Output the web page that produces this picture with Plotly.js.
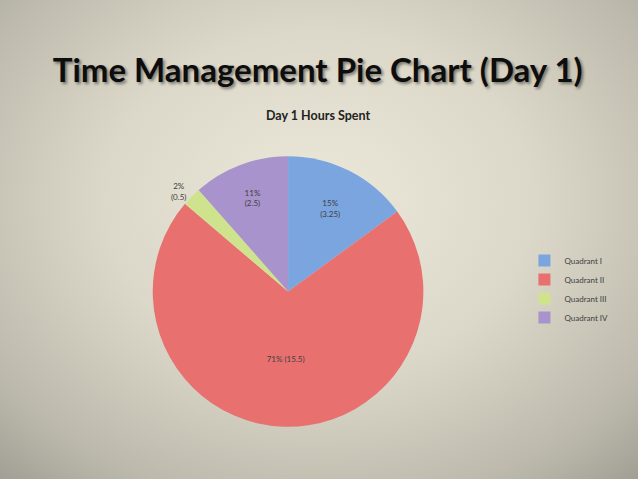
<!DOCTYPE html>
<html>
<head>
<meta charset="utf-8">
<script src="https://cdn.plot.ly/plotly-3.0.1.min.js"></script>
<style>
  html, body { margin:0; padding:0; }
  body {
    width:638px; height:479px; overflow:hidden;
    background: radial-gradient(ellipse 75% 80% at 50% 42%, #ebe8da 0%, #dcd8c9 45%, #bdbaad 80%, #9f9d93 100%);
  }
  #chart { width:638px; height:479px; }
  .gtitle { text-shadow: 2px 2px 3px rgba(0,0,0,0.45); }
</style>
</head>
<body>
<div id="chart"></div>
<script>
const categories = ["Quadrant I", "Quadrant II", "Quadrant III", "Quadrant IV"];
const hours = [3.25, 15.5, 0.5, 2.5];
const sliceColors = ["#7ba5df", "#e8706f", "#cfe38e", "#a993cc"];
const labelTemplates = [
  "%{percent:.0%}<br>(%{value})",
  "%{percent:.0%} (%{value})",
  "%{percent:.0%}<br>(%{value})",
  "%{percent:.0%}<br>(%{value})"
];
const labelPositions = ["inside", "inside", "outside", "inside"];

const trace = {
  type: "pie",
  labels: categories,
  values: hours,
  sort: false,
  direction: "clockwise",
  rotation: 0,
  marker: { colors: sliceColors, line: { width: 0 } },
  texttemplate: labelTemplates,
  textposition: labelPositions,
  insidetextorientation: "horizontal",
  textfont: { family: "Lato, 'Open Sans', sans-serif", size: 8, color: "#404040" },
  hoverinfo: "label+value+percent",
  domain: { x: [0.238, 0.665], y: [0.109, 0.674] }
};

const layout = {
  width: 638, height: 479,
  margin: { l: 0, r: 0, t: 0, b: 0 },
  paper_bgcolor: "rgba(0,0,0,0)",
  plot_bgcolor: "rgba(0,0,0,0)",
  title: {
    text: "<b>Time Management Pie Chart (Day 1)</b>",
    font: { family: "Lato, 'Open Sans', sans-serif", size: 33, color: "#0d0d0d" },
    x: 0.498, xanchor: "center",
    y: 0.853, yanchor: "middle", yref: "container"
  },
  annotations: [{
    text: "<b>Day 1 Hours Spent</b>",
    xref: "paper", yref: "paper",
    x: 0.498, y: (479 - 116) / 479,
    xanchor: "center", yanchor: "middle",
    showarrow: false,
    font: { family: "Lato, 'Open Sans', sans-serif", size: 12.5, color: "#222222" }
  }],
  showlegend: true,
  legend: {
    x: 0.822, xanchor: "left",
    y: (479 - 246) / 479, yanchor: "top",
    bgcolor: "rgba(0,0,0,0)",
    font: { family: "Lato, 'Open Sans', sans-serif", size: 8, color: "#404040" },
    itemwidth: 30
  }
};

Plotly.newPlot("chart", [trace], layout, { displayModeBar: false, staticPlot: true });
</script>
</body>
</html>
